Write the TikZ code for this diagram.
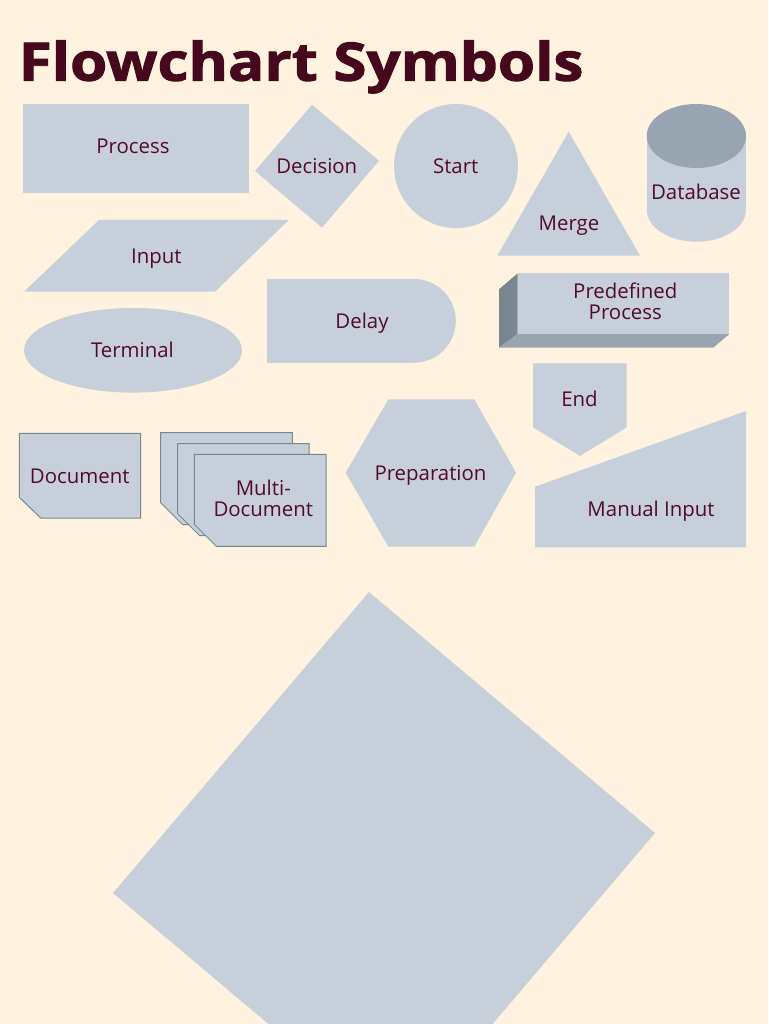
\documentclass[tikz,border=0pt]{standalone}
\usepackage{fontspec}
\setmainfont{Open Sans}
\newfontfamily\titlefont[FakeBold=1.8]{Open Sans Bold}
\definecolor{bgc}{HTML}{FFF3DF}
\definecolor{symfill}{HTML}{C7D0DA}
\definecolor{symmid}{HTML}{98A4B0}
\definecolor{symdark}{HTML}{7A8792}
\definecolor{txt}{HTML}{520A2A}
\definecolor{ttl}{HTML}{46081D}
\begin{document}
\begin{tikzpicture}[x=1pt,y=-1pt,
  symb/.style={fill=symfill,draw=none},
  docsym/.style={fill=symfill,draw=symdark,line width=1pt},
  lbl/.style={text=txt,font=\fontsize{20.4}{21}\selectfont,inner sep=0pt,anchor=base,align=center}]
\useasboundingbox (0,0) rectangle (768,1024);
\clip (0,0) rectangle (768,1024);
\fill[bgc] (0,0) rectangle (768,1024);
% title
\node[text=ttl,font=\fontsize{53}{60}\titlefont,inner sep=0pt,anchor=base west] (title) at (18.5,80.7) {\scalebox{1.135}[1]{Flowchart Symbols}};
% process
\fill[symb] (23,104) rectangle (249,192.7);
\node[lbl] (process) at (133,154) {Process};
% decision
\fill[symb] (255,171) -- (312,104.7) -- (379,160.7) -- (322,227.7) -- cycle;
\node[lbl] (decision) at (316.8,173.3) {Decision};
% start
\fill[symb] (456,166) circle[radius=62];
\node[lbl] (start) at (455.7,173.3) {Start};
% merge
\fill[symb] (568.7,131.7) -- (640,255.7) -- (497.3,255.7) -- cycle;
\node[lbl] (merge) at (569,230) {Merge};
% database
\fill[symb] (646.7,136) rectangle (746,209.7);
\fill[symb] (696.35,209.7) ellipse[x radius=49.65,y radius=32];
\fill[symmid] (696.35,136) ellipse[x radius=49.65,y radius=32];
\node[lbl] (database) at (696,200) {Database};
% input
\fill[symb] (99,220) -- (288.7,220) -- (215,291.7) -- (24,291.7) -- cycle;
\node[lbl] (input) at (156.3,263.3) {Input};
% terminal
\fill[symb] (133,350.3) ellipse[x radius=109,y radius=42.3];
\node[lbl] (terminal) at (132.5,357.7) {Terminal};
% delay
\fill[symb] (267,279) rectangle (414,362.7);
\fill[symb] (414,320.85) circle[radius=41.85];
\node[lbl] (delay) at (362,328.7) {Delay};
% predefined process
\fill[symb] (517.7,273.3) rectangle (729.3,334);
\fill[symdark] (499,289.3) -- (517.7,273.3) -- (517.7,334) -- (499,347.7) -- cycle;
\fill[symmid] (517.7,334) -- (729.3,334) -- (713.3,347.7) -- (499,347.7) -- cycle;
\node[lbl] (predef) at (625.3,319.3) {Predefined\\Process};
% end
\fill[symb] (533,363.3) -- (626.7,363.3) -- (626.7,427.3) -- (580,456) -- (533,427.3) -- cycle;
\node[lbl] (end) at (579.5,406) {End};
% document
\filldraw[docsym] (19.3,433.3) -- (140.7,433.3) -- (140.7,518) -- (40.7,518) -- (19.3,497.3) -- cycle;
\node[lbl] (document) at (79.7,483.3) {Document};
% multi-document
\foreach \dx/\dy in {0/0,16.8/10.8,33.6/21.6}{
  \filldraw[docsym] ({160.7+\dx},{432.7+\dy}) -- ({292.4+\dx},{432.7+\dy}) -- ({292.4+\dx},{524.7+\dy}) -- ({182.7+\dx},{524.7+\dy}) -- ({160.7+\dx},{502.7+\dy}) -- cycle;
}
\node[lbl] (multidoc) at (263.3,516) {Multi-\\Document};
% preparation
\fill[symb] (345.7,472.7) -- (388.3,399.3) -- (474.3,399.3) -- (516,472.7) -- (474.3,546.7) -- (388.3,546.7) -- cycle;
\node[lbl] (prep) at (430.5,480) {Preparation};
% manual input
\fill[symb] (535,486.7) -- (746,411) -- (746,547.3) -- (535,547.3) -- cycle;
\node[lbl] (manual) at (651,516.7) {Manual Input};
% large diamond
\fill[symb] (369,592) -- (655,833) -- (399,1134) -- (113,893) -- cycle;
\end{tikzpicture}
\end{document}
